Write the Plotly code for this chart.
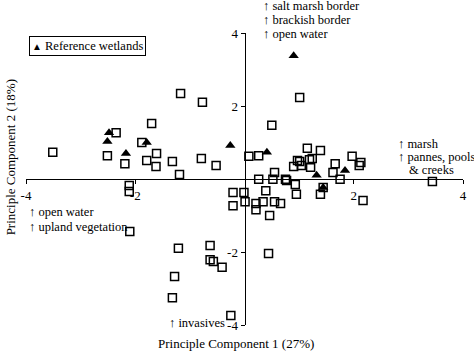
import plotly.graph_objects as go

# Open squares (sites)
sq_x = [-3.51, -2.35, -2.51, -2.19, -1.70, -1.17, -0.77, -1.88, -1.61, -1.79,
        -1.62, -1.32, -1.19, -0.79, -0.52, -2.11, -2.11, -2.10, -1.21, -0.63,
        -0.63, -0.57, -0.41, -1.28, -1.32, -0.25, -0.21, -0.01, -0.21, 0.01,
        0.08, 0.26, 0.50, 1.01, 1.15, 1.39, 1.24, 1.19, 0.97, 1.01,
        0.90, 1.04, 1.21, 0.55, 0.52, 0.26, 0.75, 0.77, 1.66, 1.62,
        1.97, 2.13, 2.10, 1.75, 3.44, 2.17, 0.93, 0.95, 1.39, 1.44,
        0.39, 0.21, 0.21, 0.34, 0.55, 0.66, 0.46, 0.44]
sq_y = [0.73, 1.27, 0.64, 0.42, 1.52, 2.34, 2.10, 1.00, 0.70, 0.51,
        0.34, 0.48, 0.12, 0.56, 0.37, -0.18, -0.34, -1.44, -1.90, -1.82,
        -2.21, -2.26, -2.42, -2.67, -3.25, -3.74, -0.37, -0.37, -0.73, -0.62,
        0.62, 0.64, 1.47, 2.23, 0.84, 0.78, 0.56, 0.53, 0.51, 0.48,
        0.34, 0.37, 0.32, 0.18, -0.01, -0.01, -0.01, -0.04, 0.42, 0.18,
        0.62, 0.45, 0.37, -0.01, -0.07, -0.59, -0.15, -0.42, -0.42, -0.23,
        -0.32, -0.67, -0.84, -0.62, -0.62, -0.67, -1.00, -2.04]

# Filled triangles (reference wetlands)
ref_x = [-2.48, -2.51, -2.17, -1.79, -0.26, 0.41, 0.90, 1.32, 1.84, 1.44]
ref_y = [1.27, 1.03, 0.70, 1.00, 0.92, 0.73, 3.38, 0.10, 0.23, -0.23]

tick_vals = [-4, -2, 2, 4]
tick_text = ["-4", "-2", "2", "4"]

FONT = "'Liberation Serif', 'Times New Roman', Times, serif"

fig = go.Figure()
fig.add_trace(go.Scatter(
    x=sq_x, y=sq_y, mode="markers", showlegend=False,
    marker=dict(symbol="square-open", size=8, color="black", line=dict(width=1.5, color="black")),
))
fig.add_trace(go.Scatter(
    x=ref_x, y=ref_y, mode="markers", showlegend=False,
    marker=dict(symbol="triangle-up", size=9, color="black"),
))

axis_common = dict(
    range=[-4, 4], showgrid=False, zeroline=False, showline=True,
    linecolor="black", linewidth=1, ticks="outside", ticklen=4,
    tickcolor="black", tickvals=tick_vals, ticktext=tick_text,
    tickfont=dict(family=FONT, size=13, color="black"),
    anchor="free", position=0.5,
)
fig.update_layout(
    width=474, height=352,
    margin=dict(l=26, r=7, t=33, b=27),
    paper_bgcolor="white", plot_bgcolor="white",
    xaxis=dict(**axis_common),
    yaxis=dict(**axis_common),
    font=dict(family=FONT, size=13, color="black"),
)

def ann(text, x, y, xanchor="left", yanchor="middle", size=13, **kw):
    fig.add_annotation(text=text, x=x, y=y, xref="paper", yref="paper",
                       xanchor=xanchor, yanchor=yanchor, showarrow=False,
                       font=dict(family=FONT, size=size, color="black"), **kw)

ann("↑ salt marsh border", 0.537, 1.092, size=12.5)
ann("↑ brackish border", 0.537, 1.045, size=12.5)
ann("↑ open water", 0.537, 0.997, size=12.5)
ann("↑ marsh", 0.846, 0.620, size=12.5)
ann("↑ pannes, pools", 0.846, 0.575, size=12.5)
ann("&amp; creeks", 0.871, 0.531, size=12.5)
ann("↑ open water", 0.002, 0.387, size=12.5)
ann("↑ upland vegetation", 0.002, 0.336, size=12.5)
ann("↑ invasives", 0.322, 0.007, size=12.5)
ann("<span style='font-size:10px'>▲</span> Reference wetlands", 0.007, 0.955,
    bordercolor="black", borderwidth=1, borderpad=2, size=12.5)
ann("Principle Component 1 (27%)", 0.48, -0.065, xanchor="center")
ann("Principle Component 2 (18%)", -0.036, 0.575, xanchor="center", textangle=-90)

fig.write_html("out.html")
